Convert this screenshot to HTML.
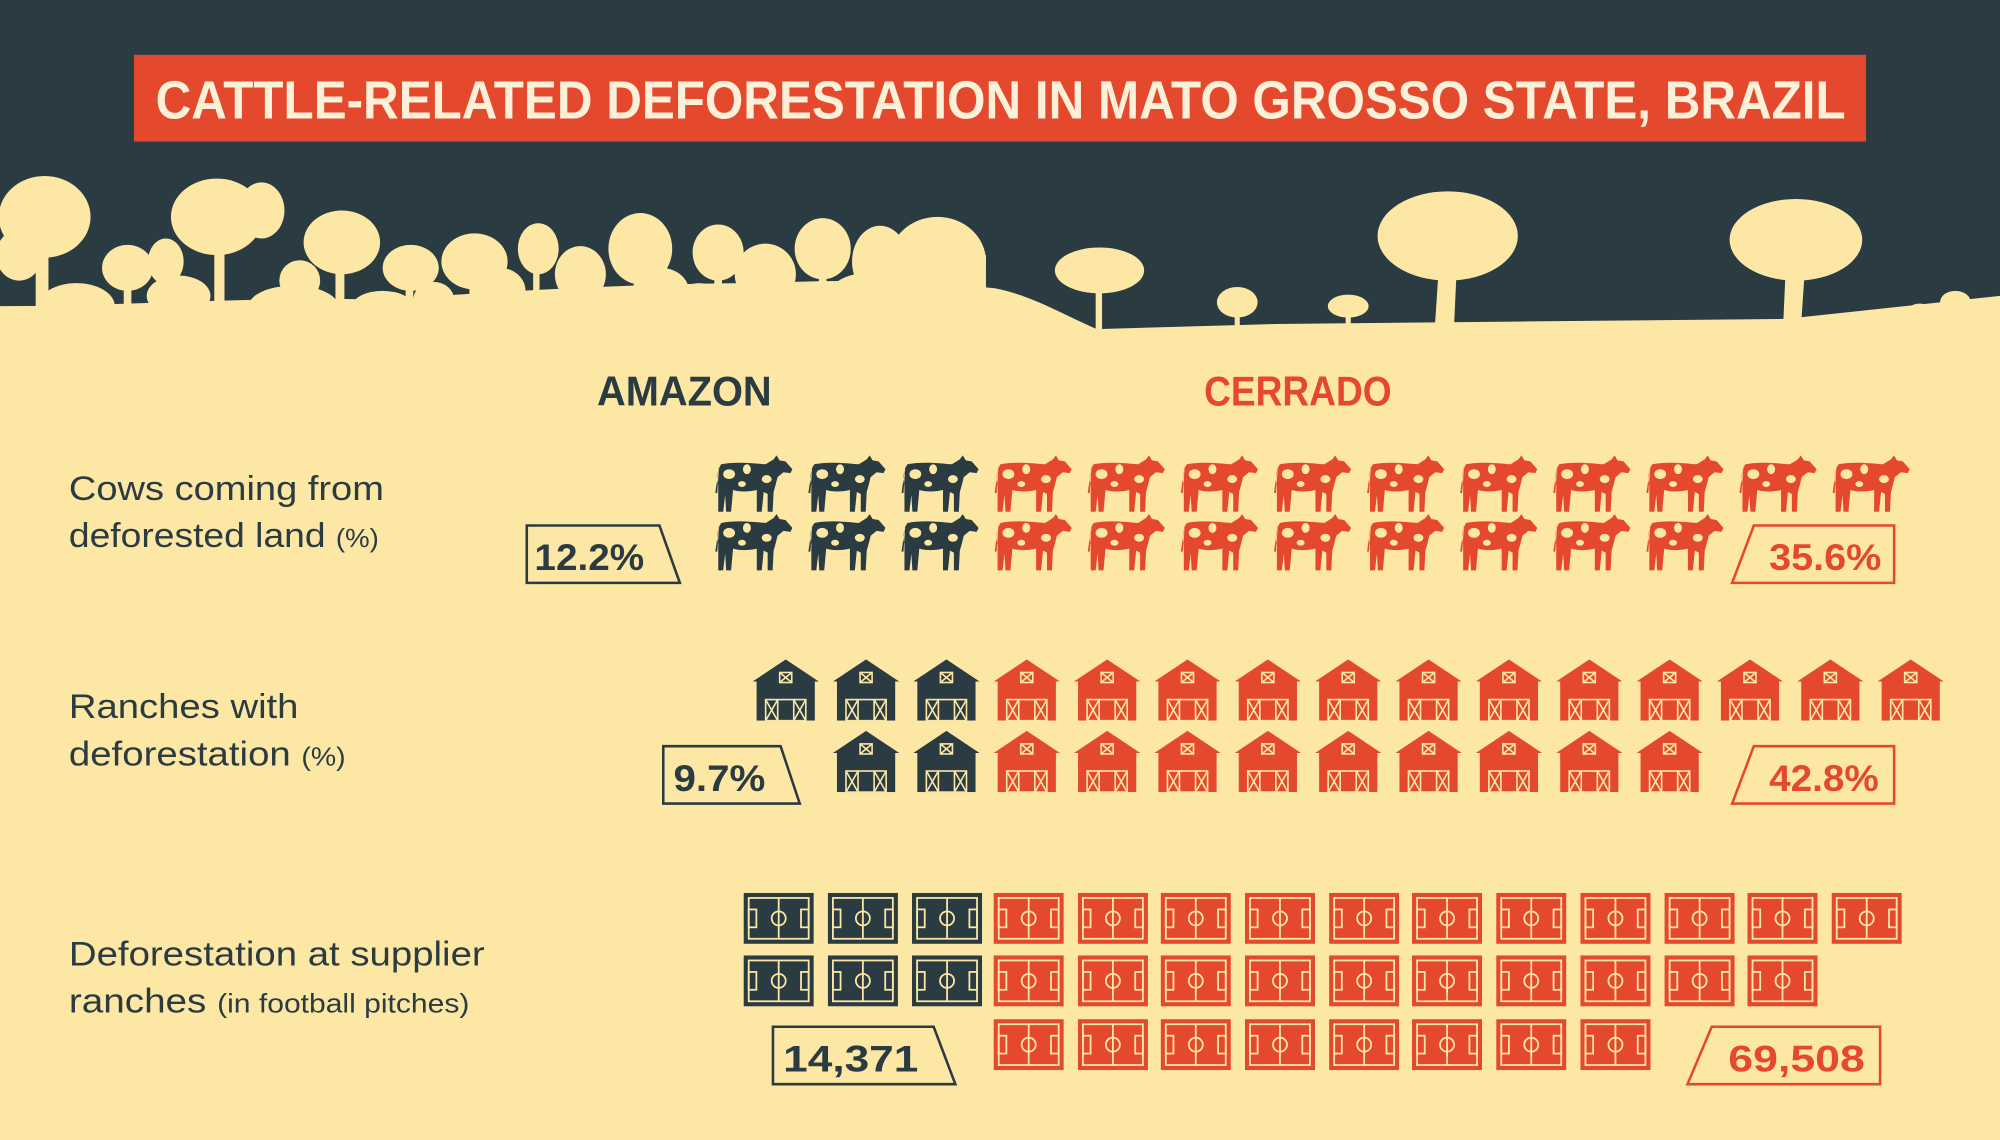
<!DOCTYPE html>
<html><head><meta charset="utf-8"><style>html,body{margin:0;padding:0;background:#2a3b42}svg{display:block}</style></head><body>
<svg xmlns="http://www.w3.org/2000/svg" width="2000" height="1140" viewBox="0 0 1568 893.76" font-family="'Liberation Sans', sans-serif">
<defs>
<symbol id="cow" viewBox="0 0 80 58">
<path d="M7,9 C20,6 40,8 52,9 L60,4 L63,0 L66,5 L72,6 L79,14 L77,18 L70,17 L64,22 L62,30 L60,37 L59,57 L54,57 L54,39 L50,37 L48,57 L43,57 L43,35 C35,37 25,37 19,35 L17,57 L12,57 L11,40 L9,57 L4,57 L4,30 C2,25 3,15 7,9 Z M5,10 L1,38 L3,38 Z"/>
<ellipse cx="15" cy="19" rx="6" ry="5" fill="#fde7a5"/><ellipse cx="33" cy="14" rx="4" ry="5" fill="#fde7a5"/><ellipse cx="53" cy="24" rx="5" ry="4" fill="#fde7a5"/><ellipse cx="28" cy="29" rx="4" ry="3" fill="#fde7a5"/>
</symbol>
<symbol id="barn" viewBox="0 0 66 61">
<polygon points="0,22 33,0 66,22 62,22 62,61 4,61 4,22"/>
<g fill="none" stroke="#fde7a5" stroke-width="1.6"><rect x="27" y="13" width="12" height="10"/><path d="M27,13L39,23M39,13L27,23"/><rect x="13" y="40" width="40" height="21"/><path d="M13,40L25,61M25,40L13,61M41,40L53,61M53,40L41,61M25,40V61M41,40V61"/></g>
</symbol>
<symbol id="pitch" viewBox="0 0 55 40">
<rect width="55" height="40"/>
<g fill="none" stroke="#fde7a5" stroke-width="1.4"><rect x="4" y="4" width="47" height="32"/><path d="M27.5,4V36"/><circle cx="27.5" cy="20" r="5.5"/><rect x="4" y="13" width="6" height="14"/><rect x="45" y="13" width="6" height="14"/></g>
</symbol>
</defs>
<rect width="1568" height="894" fill="#2a3b42"/>
<g fill="#fde7a5">
<path d="M0,270 L0,240 C100,240 200,232 300,235 C400,228 500,222 600,222 C680,218 740,222 780,226 C810,232 830,245 860,258 L1000,254 L1200,252 L1400,250 L1568,232 L1568,894 L0,894 Z"/>
<g>
<ellipse cx="35" cy="170" rx="36" ry="32"/><ellipse cx="15" cy="200" rx="18" ry="20"/><rect x="28" y="180" width="10" height="80"/>
<ellipse cx="100" cy="210" rx="20" ry="18"/><rect x="97" y="205" width="6" height="50"/>
<ellipse cx="170" cy="170" rx="36" ry="30"/><ellipse cx="205" cy="165" rx="18" ry="22"/><rect x="168" y="175" width="8" height="70"/>
<ellipse cx="268" cy="190" rx="30" ry="25"/><rect x="263" y="190" width="7" height="60"/>
<ellipse cx="322" cy="210" rx="22" ry="18"/><rect x="318" y="210" width="6" height="50"/>
<ellipse cx="372" cy="205" rx="26" ry="22"/><ellipse cx="392" cy="228" rx="20" ry="18"/><rect x="368" y="200" width="7" height="60"/>
<ellipse cx="422" cy="195" rx="16" ry="20"/><rect x="418" y="190" width="5" height="70"/>
<ellipse cx="455" cy="215" rx="20" ry="22"/><rect x="452" y="210" width="5" height="60"/>
<ellipse cx="502" cy="195" rx="25" ry="28"/><ellipse cx="518" cy="228" rx="22" ry="18"/><rect x="498" y="190" width="8" height="80"/>
<ellipse cx="563" cy="198" rx="20" ry="22"/><rect x="560" y="195" width="6" height="70"/>
<ellipse cx="600" cy="215" rx="24" ry="24"/><ellipse cx="548" cy="238" rx="18" ry="16"/><rect x="597" y="210" width="6" height="60"/>
<ellipse cx="645" cy="195" rx="22" ry="24"/><rect x="642" y="190" width="6" height="70"/>
<ellipse cx="690" cy="205" rx="22" ry="28"/><ellipse cx="735" cy="205" rx="38" ry="35"/><rect x="705" y="200" width="68" height="40"/>
<ellipse cx="60" cy="240" rx="30" ry="18"/><ellipse cx="140" cy="232" rx="25" ry="16"/><ellipse cx="230" cy="240" rx="35" ry="16"/><ellipse cx="300" cy="242" rx="25" ry="14"/><ellipse cx="440" cy="245" rx="30" ry="14"/><ellipse cx="620" cy="240" rx="30" ry="16"/><ellipse cx="680" cy="232" rx="30" ry="18"/>
<ellipse cx="130" cy="205" rx="14" ry="18"/><ellipse cx="235" cy="220" rx="16" ry="16"/><ellipse cx="340" cy="235" rx="16" ry="14"/><ellipse cx="470" cy="240" rx="14" ry="14"/><ellipse cx="580" cy="245" rx="16" ry="14"/>
</g>
<g>
<ellipse cx="862" cy="212" rx="35" ry="18"/><rect x="859" y="215" width="5" height="45"/>
<ellipse cx="970" cy="237" rx="16" ry="12"/><rect x="968" y="235" width="4" height="22"/>
<ellipse cx="1057" cy="240" rx="16" ry="9"/><rect x="1055" y="240" width="4" height="15"/>
<ellipse cx="1135" cy="185" rx="55" ry="35"/><path d="M1125,255 L1128,210 L1110,195 L1130,203 L1135,190 L1140,203 L1160,195 L1142,212 L1140,255 Z"/>
<ellipse cx="1408" cy="188" rx="52" ry="32"/><path d="M1398,255 L1400,210 L1385,195 L1403,205 L1408,190 L1413,205 L1430,195 L1415,212 L1412,255 Z"/>
<ellipse cx="1533" cy="237" rx="12" ry="9"/><rect x="1531" y="235" width="4" height="14"/>
<ellipse cx="1505" cy="245" rx="10" ry="7"/>
</g>
</g>
<rect x="105" y="43" width="1358" height="68" fill="#e4492d"/>
<text x="122" y="93" font-size="42" font-weight="bold" fill="#fdf0d8" textLength="1325" lengthAdjust="spacingAndGlyphs">CATTLE-RELATED DEFORESTATION IN MATO GROSSO STATE, BRAZIL</text>
<text x="468" y="318" font-size="33" font-weight="bold" fill="#2a3b42" textLength="137" lengthAdjust="spacingAndGlyphs">AMAZON</text>
<text x="944" y="318" font-size="33" font-weight="bold" fill="#e4492d" textLength="147" lengthAdjust="spacingAndGlyphs">CERRADO</text>
<g fill="#2a3b42" font-size="27">
<text x="54" y="392" textLength="247" lengthAdjust="spacingAndGlyphs">Cows coming from</text>
<text x="54" y="429" textLength="243" lengthAdjust="spacingAndGlyphs">deforested land <tspan font-size="20">(%)</tspan></text>
<text x="54" y="563" textLength="180" lengthAdjust="spacingAndGlyphs">Ranches with</text>
<text x="54" y="600" textLength="217" lengthAdjust="spacingAndGlyphs">deforestation <tspan font-size="20">(%)</tspan></text>
<text x="54" y="757" textLength="326" lengthAdjust="spacingAndGlyphs">Deforestation at supplier</text>
<text x="54" y="794" textLength="314" lengthAdjust="spacingAndGlyphs">ranches <tspan font-size="21">(in football pitches)</tspan></text>
</g>
<g fill="#2a3b42">
<use href="#cow" x="560" y="357" width="62" height="45"/><use href="#cow" x="633" y="357" width="62" height="45"/><use href="#cow" x="706" y="357" width="62" height="45"/>
<use href="#cow" x="560" y="403" width="62" height="45"/><use href="#cow" x="633" y="403" width="62" height="45"/><use href="#cow" x="706" y="403" width="62" height="45"/>
</g>
<g fill="#e4492d">
<use href="#cow" x="779" y="357" width="62" height="45"/><use href="#cow" x="852" y="357" width="62" height="45"/><use href="#cow" x="925" y="357" width="62" height="45"/><use href="#cow" x="998" y="357" width="62" height="45"/><use href="#cow" x="1071" y="357" width="62" height="45"/><use href="#cow" x="1144" y="357" width="62" height="45"/><use href="#cow" x="1217" y="357" width="62" height="45"/><use href="#cow" x="1290" y="357" width="62" height="45"/><use href="#cow" x="1363" y="357" width="62" height="45"/><use href="#cow" x="1436" y="357" width="62" height="45"/>
<use href="#cow" x="779" y="403" width="62" height="45"/><use href="#cow" x="852" y="403" width="62" height="45"/><use href="#cow" x="925" y="403" width="62" height="45"/><use href="#cow" x="998" y="403" width="62" height="45"/><use href="#cow" x="1071" y="403" width="62" height="45"/><use href="#cow" x="1144" y="403" width="62" height="45"/><use href="#cow" x="1217" y="403" width="62" height="45"/><use href="#cow" x="1290" y="403" width="62" height="45"/>
</g>
<g fill="#2a3b42">
<use href="#barn" x="590" y="517" width="52" height="48"/><use href="#barn" x="653" y="517" width="52" height="48"/><use href="#barn" x="716" y="517" width="52" height="48"/>
<use href="#barn" x="653" y="573" width="52" height="48"/><use href="#barn" x="716" y="573" width="52" height="48"/>
</g>
<g fill="#e4492d">
<use href="#barn" x="779" y="517" width="52" height="48"/><use href="#barn" x="842" y="517" width="52" height="48"/><use href="#barn" x="905" y="517" width="52" height="48"/><use href="#barn" x="968" y="517" width="52" height="48"/><use href="#barn" x="1031" y="517" width="52" height="48"/><use href="#barn" x="1094" y="517" width="52" height="48"/><use href="#barn" x="1157" y="517" width="52" height="48"/><use href="#barn" x="1220" y="517" width="52" height="48"/><use href="#barn" x="1283" y="517" width="52" height="48"/><use href="#barn" x="1346" y="517" width="52" height="48"/><use href="#barn" x="1409" y="517" width="52" height="48"/><use href="#barn" x="1472" y="517" width="52" height="48"/>
<use href="#barn" x="779" y="573" width="52" height="48"/><use href="#barn" x="842" y="573" width="52" height="48"/><use href="#barn" x="905" y="573" width="52" height="48"/><use href="#barn" x="968" y="573" width="52" height="48"/><use href="#barn" x="1031" y="573" width="52" height="48"/><use href="#barn" x="1094" y="573" width="52" height="48"/><use href="#barn" x="1157" y="573" width="52" height="48"/><use href="#barn" x="1220" y="573" width="52" height="48"/><use href="#barn" x="1283" y="573" width="52" height="48"/>
</g>
<g fill="#2a3b42">
<use href="#pitch" x="583" y="700" width="55" height="40"/><use href="#pitch" x="649" y="700" width="55" height="40"/><use href="#pitch" x="715" y="700" width="55" height="40"/>
<use href="#pitch" x="583" y="749" width="55" height="40"/><use href="#pitch" x="649" y="749" width="55" height="40"/><use href="#pitch" x="715" y="749" width="55" height="40"/>
</g>
<g fill="#e4492d">
<use href="#pitch" x="779" y="700" width="55" height="40"/><use href="#pitch" x="845" y="700" width="55" height="40"/><use href="#pitch" x="910" y="700" width="55" height="40"/><use href="#pitch" x="976" y="700" width="55" height="40"/><use href="#pitch" x="1042" y="700" width="55" height="40"/><use href="#pitch" x="1107" y="700" width="55" height="40"/><use href="#pitch" x="1173" y="700" width="55" height="40"/><use href="#pitch" x="1239" y="700" width="55" height="40"/><use href="#pitch" x="1305" y="700" width="55" height="40"/><use href="#pitch" x="1370" y="700" width="55" height="40"/><use href="#pitch" x="1436" y="700" width="55" height="40"/>
<use href="#pitch" x="779" y="749" width="55" height="40"/><use href="#pitch" x="845" y="749" width="55" height="40"/><use href="#pitch" x="910" y="749" width="55" height="40"/><use href="#pitch" x="976" y="749" width="55" height="40"/><use href="#pitch" x="1042" y="749" width="55" height="40"/><use href="#pitch" x="1107" y="749" width="55" height="40"/><use href="#pitch" x="1173" y="749" width="55" height="40"/><use href="#pitch" x="1239" y="749" width="55" height="40"/><use href="#pitch" x="1305" y="749" width="55" height="40"/><use href="#pitch" x="1370" y="749" width="55" height="40"/>
<use href="#pitch" x="779" y="799" width="55" height="40"/><use href="#pitch" x="845" y="799" width="55" height="40"/><use href="#pitch" x="910" y="799" width="55" height="40"/><use href="#pitch" x="976" y="799" width="55" height="40"/><use href="#pitch" x="1042" y="799" width="55" height="40"/><use href="#pitch" x="1107" y="799" width="55" height="40"/><use href="#pitch" x="1173" y="799" width="55" height="40"/><use href="#pitch" x="1239" y="799" width="55" height="40"/>
</g>
<g fill="none" stroke-width="2">
<polygon points="413,412 517,412 533,457 413,457" stroke="#2a3b42"/>
<polygon points="1375,412 1485,412 1485,457 1358,457" stroke="#e4492d"/>
<polygon points="520,585 612,585 627,630 520,630" stroke="#2a3b42"/>
<polygon points="1375,585 1485,585 1485,630 1358,630" stroke="#e4492d"/>
<polygon points="606,805 732,805 749,850 606,850" stroke="#2a3b42"/>
<polygon points="1342,805 1474,805 1474,850 1323,850" stroke="#e4492d"/>
</g>
<g font-size="29" font-weight="bold">
<text x="419" y="447" fill="#2a3b42" textLength="86" lengthAdjust="spacingAndGlyphs">12.2%</text>
<text x="1387" y="447" fill="#e4492d" textLength="88" lengthAdjust="spacingAndGlyphs">35.6%</text>
<text x="528" y="620" fill="#2a3b42" textLength="72" lengthAdjust="spacingAndGlyphs">9.7%</text>
<text x="1387" y="620" fill="#e4492d" textLength="86" lengthAdjust="spacingAndGlyphs">42.8%</text>
<text x="614" y="840" fill="#2a3b42" textLength="106" lengthAdjust="spacingAndGlyphs">14,371</text>
<text x="1355" y="840" fill="#e4492d" textLength="107" lengthAdjust="spacingAndGlyphs">69,508</text>
</g>
</svg>
</body></html>
